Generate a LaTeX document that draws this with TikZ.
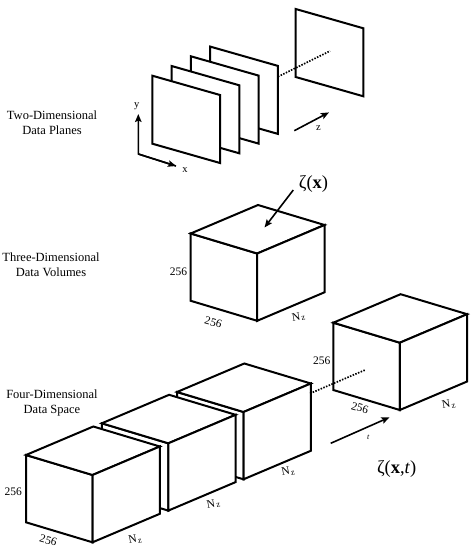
\documentclass[tikz,border=0pt]{standalone}
\usepackage{fontspec}
\setmainfont{Liberation Serif}
\usetikzlibrary{arrows.meta,calc}
\tikzset{
  edge/.style={line width=2pt, line join=miter},
  face/.style={edge, fill=white},
  arr/.style={line width=1.6pt, -{Stealth[length=8pt,width=6.5pt,inset=1.5pt]}},
  dots/.style={line width=1.7pt, dash pattern=on 1.5pt off 1.4pt},
  sect/.style={font=\fontsize{12.5}{15}\selectfont, align=center, inner sep=0pt},
  dim/.style={font=\fontsize{11.5}{13}\selectfont, inner sep=0pt},
  zeta/.style={font=\fontsize{18.5}{20}\selectfont, inner sep=0pt},
  axl/.style={font=\fontsize{10.5}{12}\selectfont, inner sep=0pt},
  cubepic/.pic={
    \draw[face] (0,0) -- ++(66.5,20) -- ++(0,67.3) -- ++(-66.5,-20) -- cycle;
    \draw[face] (0,0) -- ++(67.3,-28.5) -- ++(66.5,20) -- ++(-67.3,28.5) -- cycle;
    \draw[face] (66.5,20) -- ++(67.3,-28.5) -- ++(0,67.3) -- ++(-67.3,28.5) -- cycle;
  },
  planepic/.pic={
    \draw[face] (0,0) -- ++(67.7,19.3) -- ++(0,68) -- ++(-67.7,-19.3) -- cycle;
  }
}
\newcommand{\Nz}{N\kern1pt\raisebox{-0.25ex}{\fontsize{8.5}{9}\selectfont z}}
\begin{document}
\begin{tikzpicture}[x=1pt,y=-1pt]
\useasboundingbox (0,0) rectangle (474,548);

% ---------- section labels
\node[sect] (l2d) at (52,122.5) {Two-Dimensional\\Data Planes};
\node[sect] (l3d) at (51,265) {Three-Dimensional\\Data Volumes};
\node[sect] (l4d) at (52,402.5) {Four-Dimensional\\Data Space};

% ---------- two-dimensional planes
\pic at (295.7,9) {planepic};
\coordinate (dA) at (278,76.7);
\coordinate (dB) at (330,51);
\draw[dots] (dA) -- (dB);
\pic at (210.2,46.6) {planepic};
\pic at (190.9,56.3) {planepic};
\pic at (171.6,66) {planepic};
\pic at (152.3,75.7) {planepic};

% axes
\coordinate (ax0) at (138.3,154);
\coordinate (axy) at (138.3,114);
\coordinate (axx) at (176,166);
\draw[arr, line join=miter] (axx) -- (ax0) -- (axy);
\draw[line width=1.6pt, {Stealth[length=8pt,width=6.5pt,inset=1.5pt]}-] (axx) -- (ax0);
\node[axl] (ylab) at (136.7,106) {y};
\node[axl] (xlab) at (185,170) {x};
\coordinate (z0) at (294.3,130.7);
\coordinate (z1) at (329,112.4);
\draw[arr] (z0) -- (z1);
\node[axl] (zlab) at (318.5,128) {z};

% ---------- three-dimensional volume
\pic at (190.7,233.5) {cubepic};
\coordinate (zx0) at (293.3,190);
\coordinate (zx1) at (264.5,227.5);
\draw[arr] (zx0) -- (zx1);
\node[zeta] (zx) at (313.5,184) {ζ(\textbf{x})};
\node[dim] (c1h) at (178.5,272) {256};
\node[dim, rotate=-16] (c1w) at (213.3,322.3) {256};
\node[dim, rotate=10] (c1d) at (298.5,317) {\Nz};

% ---------- four-dimensional space
\pic at (333.3,322.7) {cubepic};
\pic at (177,392) {cubepic};
\pic at (101.8,423.3) {cubepic};
\pic at (26,455) {cubepic};
\coordinate (tA) at (310,393.5);
\coordinate (tB) at (365,370);
\draw[dots] (tA) -- (tB);

\node[dim] (rh) at (321.7,360.7) {256};
\node[dim, rotate=-16] (rw) at (360,408) {256};
\node[dim, rotate=10] (rd) at (448.5,404.5) {\Nz};

\node[dim] (ah) at (13.3,491.7) {256};
\node[dim, rotate=-16] (aw) at (48.3,540.5) {256};
\node[dim, rotate=10] (ad) at (135,539.5) {\Nz};
\node[dim, rotate=10] (bd) at (213.3,504) {\Nz};
\node[dim, rotate=10] (cd) at (288,471.5) {\Nz};

\coordinate (t0) at (330.7,443.3);
\coordinate (t1) at (389.5,417.3);
\draw[arr] (t0) -- (t1);
\node[axl, font=\fontsize{8}{9}\selectfont\itshape] (tlab) at (368.3,437) {t};
\node[zeta] (zxt) at (396.7,469) {ζ(\textbf{x},\textit{t})};
\end{tikzpicture}
\end{document}
